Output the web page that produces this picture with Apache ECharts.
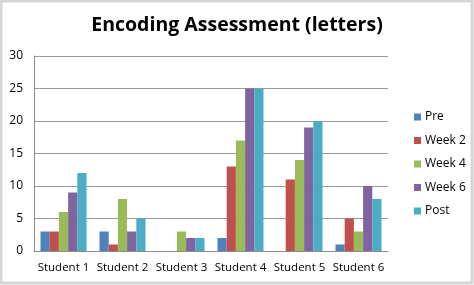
<!DOCTYPE html>
<html>
<head>
<meta charset="utf-8">
<script src="https://cdn.jsdelivr.net/npm/echarts@6/dist/echarts.min.js"></script>
<style>
  html, body { margin: 0; padding: 0; background: #fff; }
  #chart { width: 474px; height: 285px; }
</style>
</head>
<body>
<div id="chart"></div>
<script>
const students = ['Student 1', 'Student 2', 'Student 3', 'Student 4', 'Student 5', 'Student 6']
const pre = [3, 3, 0, 2, 0, 1]
const week2 = [3, 1, 0, 13, 11, 5]
const week4 = [6, 8, 3, 17, 14, 3]
const week6 = [9, 3, 2, 25, 19, 10]
const post = [12, 5, 2, 25, 20, 8]

const colors = ['#4F81BD', '#C0504D', '#9BBB59', '#8064A2', '#4BACC6']
const font = '"Open Sans", sans-serif'

const chart = echarts.init(document.getElementById('chart'))

const bar = (name, data) => ({
  name,
  type: 'bar',
  data,
  barGap: '0%',
  barCategoryGap: '22%',
})

chart.setOption({
  backgroundColor: '#fff',
  animation: false,
  color: colors,
  title: {
    text: 'Encoding Assessment (letters)',
    left: 'center',
    top: 10,
    textStyle: { fontFamily: font, fontSize: 19.5, fontWeight: 'bold', color: '#000' },
  },
  legend: {
    orient: 'vertical',
    left: 409,
    top: 105,
    itemWidth: 7,
    itemHeight: 7,
    itemGap: 9.5,
    icon: 'rect',
    textStyle: { fontFamily: font, fontSize: 12, color: '#000', lineHeight: 14, padding: [0, 0, 0, -1] },
  },
  grid: { left: 34, right: 86, top: 56, bottom: 34, containLabel: false },
  xAxis: {
    type: 'category',
    data: students,
    axisLine: { lineStyle: { color: '#8c8c8c' } },
    axisTick: { show: false },
    axisLabel: { interval: 0, fontFamily: font, fontSize: 11.5, color: '#000', margin: 11 },
  },
  yAxis: {
    type: 'value',
    min: 0,
    max: 30,
    interval: 5,
    axisLine: { show: true, lineStyle: { color: '#8c8c8c' } },
    axisTick: { show: false },
    axisLabel: { fontFamily: font, fontSize: 12, color: '#000', margin: 11 },
    splitLine: { lineStyle: { color: '#9a9a9a', width: 1 } },
  },
  graphic: [
    {
      type: 'rect',
      silent: true,
      shape: { x: 1, y: 1, width: 471, height: 282 },
      style: { fill: 'none', stroke: '#d6d6d6', lineWidth: 3 },
    },
  ],
  series: [
    bar('Pre', pre),
    bar('Week 2', week2),
    bar('Week 4', week4),
    bar('Week 6', week6),
    bar('Post', post),
  ],
})
</script>
</body>
</html>
